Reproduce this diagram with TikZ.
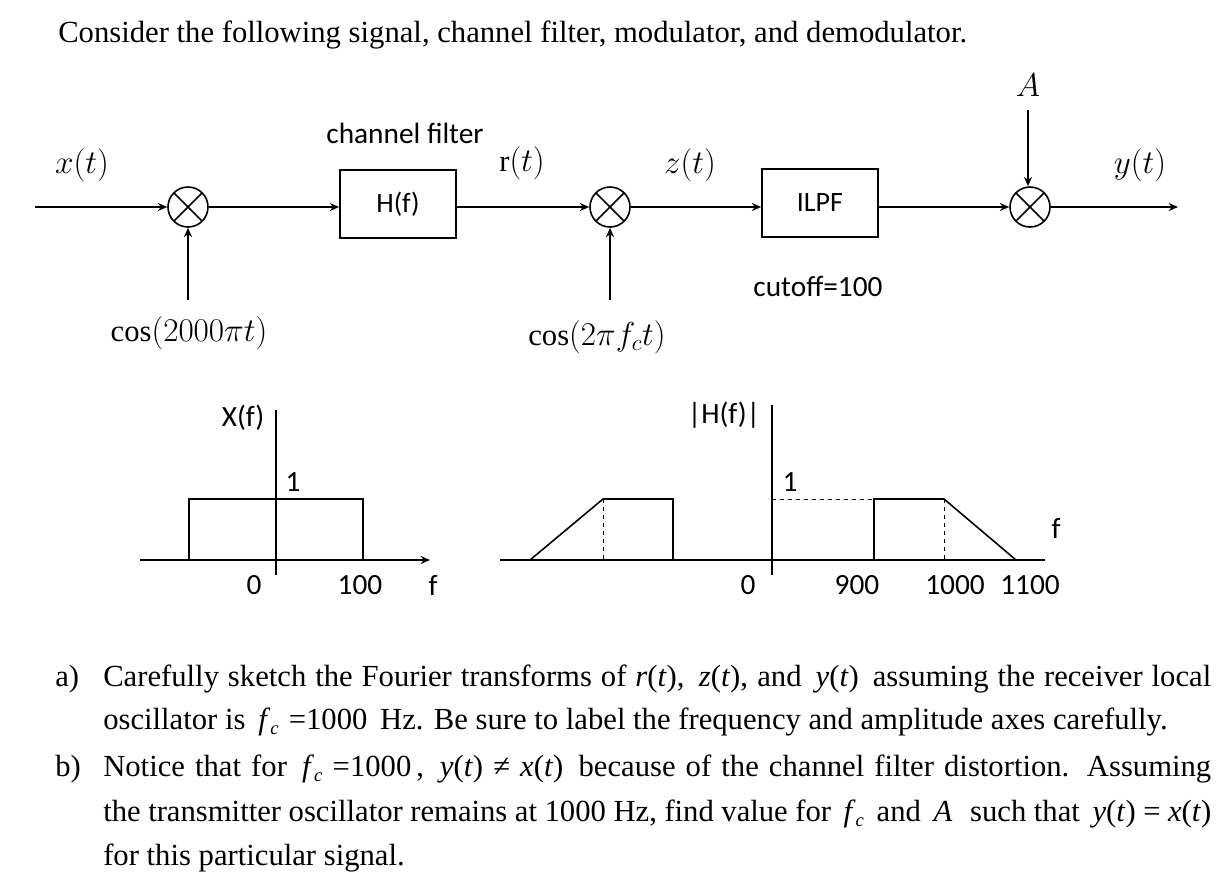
\documentclass[tikz,border=0pt]{standalone}
\usepackage{fontspec}
\usepackage{amsmath}
\setmainfont{Liberation Serif}
\newfontfamily\calfnt{Carlito}
\usetikzlibrary{arrows.meta}
\newcommand{\fsub}{\textit{f}\raisebox{-4pt}{\fontsize{14}{14}\selectfont\textit{c}}}
\begin{document}
\begin{tikzpicture}[x=0.75pt,y=-0.75pt,
  sig/.style={line width=1.2pt},
  arr/.style={line width=1.2pt,-{Stealth[length=7pt,width=6pt]}},
  blk/.style={draw,line width=1.2pt,minimum width=87pt,minimum height=51pt,font=\calfnt\fontsize{21}{24}\selectfont},
  mix/.style={draw,circle,line width=1.2pt,minimum size=30pt,inner sep=0pt,
    path picture={\draw[line width=1.2pt] (path picture bounding box.north west)--(path picture bounding box.south east) (path picture bounding box.north east)--(path picture bounding box.south west);}},
  lbl/.style={font=\calfnt\fontsize{22}{26}\selectfont},
  ml/.style={font=\fontsize{23}{27}\selectfont},
  txt/.style={anchor=base west,font=\fontsize{23}{27}\selectfont,inner sep=0pt}]
\useasboundingbox (0,0) rectangle (1220,890);
\node[txt] (title) at (58,42) {Consider the following signal, channel filter, modulator, and demodulator.};
% block diagram
\coordinate (in) at (35,207);
\node[mix] (m1) at (188,207) {};
\node[blk] (H) at (398,204) {H(f)};
\node[mix] (m2) at (610,207) {};
\node[blk] (L) at (820,203) {ILPF};
\node[mix] (m3) at (1030,207) {};
\coordinate (out) at (1178,207);
\coordinate (c1) at (188,300);
\coordinate (c2) at (610,300);
\coordinate (a0) at (1028,110);
\draw[arr] (in) -- (m1);
\draw[arr] (m1) -- (H.west|-m1);
\draw[arr] (H.east|-m2) -- (m2);
\draw[arr] (m2) -- (L.west|-m2);
\draw[arr] (L.east|-m3) -- (m3);
\draw[arr] (m3) -- (out);
\draw[arr] (c1) -- (m1);
\draw[arr] (c2) -- (m2);
\draw[arr] (a0) -- (m3.north-|a0);
\node[ml] (xt) at (82,165) {$x(t)$};
\node[lbl] (cf) at (405,133) {channel filter};
\node[ml] (rt) at (522,163) {r$(t)$};
\node[ml] (zt) at (690,165) {$z(t)$};
\node[ml] (yt) at (1140,165) {$y(t)$};
\node[ml] (A) at (1028,85) {$A$};
\node[lbl] (co) at (818,286) {cutoff=100};
\node[ml] (cos1) at (189,333) {$\cos(2000\pi t)$};
\node[ml] (cos2) at (597,337) {$\cos(2\pi f_c t)$};
% X(f) plot
\draw[arr,line width=1pt] (140,560) -- (430,560);
\draw[line width=1pt] (276,575) -- (276,410);
\draw[sig] (189,560) -- (189,499) -- (363,499) -- (363,560);
\node[lbl] (Xf) at (243,418) {X(f)};
\node[lbl] (X1) at (293,482) {1};
\node[lbl] (X0) at (254,585) {0};
\node[lbl] (X100) at (360,585) {100};
\node[lbl] (Xff) at (433,585) {f};
% H(f) plot
\draw[line width=1pt] (500,560) -- (1045,560);
\draw[line width=1pt] (772,575) -- (772,405);
\draw[sig] (530,560) -- (603,499) -- (673,499) -- (673,560);
\draw[sig] (874,560) -- (874,499) -- (944,499) -- (1016,560);
\draw[dashed,line width=0.5pt] (603,499) -- (603,560) (944,499) -- (944,560) (772,499) -- (874,499);
\node[lbl] (Hf) at (724,415) {|H(f)|};
\node[lbl] (H1) at (790,482) {1};
\node[lbl] (Hff) at (1056,528) {f};
\node[lbl] (H0) at (748,585) {0};
\node[lbl] (H900) at (857,585) {900};
\node[lbl] (H1000) at (955,585) {1000};
\node[lbl] (H1100) at (1030,585) {1100};
% questions
\node[txt] (qa) at (55,686) {a)};
\node[txt] (qa1) at (103,686) {\makebox[831pt][s]{Carefully sketch the Fourier transforms of \textit{r}(\textit{t}),\, \textit{z}(\textit{t}), and\, \textit{y}(\textit{t})\, assuming the receiver local}};
\node[txt] (qa2) at (103,729) {oscillator is\, \fsub\,\,=1000\, Hz. Be sure to label the frequency and amplitude axes carefully.};
\node[txt] (qb) at (55,776) {b)};
\node[txt] (qb1) at (103,776) {\makebox[831pt][s]{Notice that for\, \fsub\,\,=1000\,,\, \textit{y}(\textit{t}) ≠ \textit{x}(\textit{t})\, because of the channel filter distortion. Assuming}};
\node[txt] (qb2) at (103,821) {\makebox[831pt][s]{the transmitter oscillator remains at 1000 Hz, find value for\, \fsub\, and\, \textit{A}\,\, such that\, \textit{y}(\textit{t}) = \textit{x}(\textit{t})}};
\node[txt] (qb3) at (103,865) {for this particular signal.};
\end{tikzpicture}
\end{document}
